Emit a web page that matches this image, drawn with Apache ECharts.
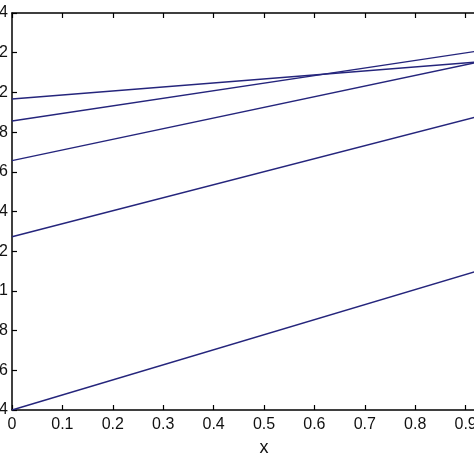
<!DOCTYPE html>
<html><head><meta charset="utf-8">
<script src="https://cdn.jsdelivr.net/npm/echarts@6/dist/echarts.min.js"></script>
<style>html,body{margin:0;padding:0;background:#fff}#c{width:474px;height:474px}</style>
</head><body><div id="c"></div>
<script>
// x positions of line endpoints
var xValues = [0, 1];
// each series: value at x=0 and x=1 (straight lines)
var line1 = [0.1967, 0.2169];
var line2 = [0.1856, 0.2237];
var line3 = [0.1656, 0.2193];
var line4 = [0.1273, 0.1928];
var line5 = [0.0400, 0.1158];
var yMin = 0.04, yMax = 0.24, yStep = 0.02;
var xMin = 0, xMax = 1, xStep = 0.1;

var lines = [line1, line2, line3, line4, line5];
var chart = echarts.init(document.getElementById('c'));
var font = 'Liberation Sans, Arial, sans-serif';
var series = lines.map(function (vals, i) {
  return {
    type: 'line', name: 'L' + (i + 1), showSymbol: false, symbol: 'none',
    data: xValues.map(function (x, j) { return [x, vals[j]]; }),
    lineStyle: { color: '#25257c', width: 1.4 }, silent: true, clip: true
  };
});
chart.setOption({
  animation: false,
  backgroundColor: '#fff',
  grid: { left: 12, right: -42, top: 13, bottom: 64, show: false,
    containLabel: false, outerBoundsMode: 'none' },
  xAxis: [{
    type: 'value', min: xMin, max: xMax, interval: xStep, position: 'bottom',
    name: 'x', nameLocation: 'middle', nameGap: 29,
    nameTextStyle: { color: '#111', fontSize: 18, fontFamily: font },
    axisLine: { lineStyle: { color: '#000', width: 1.5 } },
    axisTick: { inside: true, length: 5, lineStyle: { color: '#000', width: 1.2 } },
    axisLabel: { color: '#111', fontSize: 16, fontFamily: font, margin: 7 },
    splitLine: { show: false }
  }, {
    type: 'value', min: xMin, max: xMax, interval: xStep, position: 'top',
    axisLine: { lineStyle: { color: '#000', width: 1.5 } },
    axisTick: { inside: true, length: 5, lineStyle: { color: '#000', width: 1.2 } },
    axisLabel: { show: false }, splitLine: { show: false }
  }],
  yAxis: [{
    type: 'value', min: yMin, max: yMax, interval: yStep,
    axisLine: { show: true, lineStyle: { color: '#000', width: 1.5 } },
    axisTick: { show: true, inside: true, length: 5, lineStyle: { color: '#000', width: 1.2 } },
    axisLabel: { color: '#111', fontSize: 16, fontFamily: font, margin: 4,
      formatter: function (v) { return String(Math.round(v * 100) / 100); } },
    splitLine: { show: false }
  }],
  series: series
});
</script></body></html>
